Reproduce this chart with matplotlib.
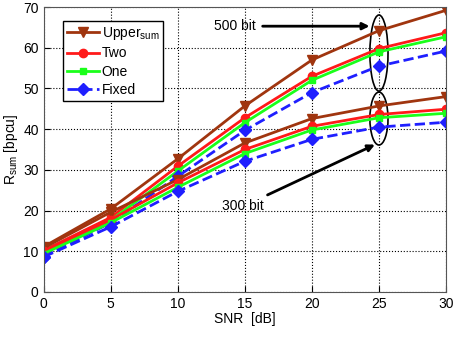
import matplotlib.pyplot as plt
from matplotlib.patches import Ellipse

plt.rcParams['font.family'] = ['Liberation Sans', 'DejaVu Sans']
plt.rcParams['mathtext.fontset'] = 'custom'
plt.rcParams['mathtext.rm'] = 'Liberation Sans'

snr = [0, 5, 10, 15, 20, 25, 30]

# 500 bit curves
upper_500 = [11.1, 20.4, 32.7, 45.7, 57.0, 64.2, 69.2]
two_500 = [10.2, 18.3, 30.9, 42.8, 53.0, 59.8, 63.7]
one_500 = [9.6, 17.6, 29.7, 41.6, 52.0, 59.0, 62.7]
fixed_500 = [8.7, 17.0, 28.4, 39.7, 49.0, 55.5, 59.2]

# 300 bit curves
upper_300 = [10.8, 19.6, 27.6, 36.6, 42.6, 45.7, 48.0]
two_300 = [10.0, 17.7, 26.8, 35.0, 40.7, 43.6, 44.9]
one_300 = [9.4, 17.0, 25.7, 34.0, 39.8, 42.8, 43.9]
fixed_300 = [8.6, 16.0, 24.7, 32.1, 37.5, 40.5, 41.7]

brown = '#a0350f'
red = '#ff1a1a'
green = '#1aff1a'
blue = '#1f1fff'

fig = plt.figure(figsize=(4.74, 3.53), dpi=100)
ax = fig.add_axes([0.092, 0.173, 0.849, 0.807])

ax.plot(snr, upper_500, '-v', color=brown, lw=2, ms=7, label='Upper$_{\\rm sum}$')
ax.plot(snr, two_500, '-o', color=red, lw=2, ms=6, label='Two')
ax.plot(snr, one_500, '-s', color=green, lw=2, ms=5, label='One')
ax.plot(snr, fixed_500, '--D', color=blue, lw=2, ms=6, label='Fixed')

ax.plot(snr, upper_300, '-v', color=brown, lw=2, ms=7)
ax.plot(snr, two_300, '-o', color=red, lw=2, ms=6)
ax.plot(snr, one_300, '-s', color=green, lw=2, ms=5)
ax.plot(snr, fixed_300, '--D', color=blue, lw=2, ms=6)

# ellipses round the 25 dB points
ax.add_patch(Ellipse((25, 58.7), 1.35, 18.7, fill=False, ec='black', lw=1.2))
ax.add_patch(Ellipse((25, 42.6), 1.35, 13.0, fill=False, ec='black', lw=1.2))

ax.annotate('500 bit', xy=(24.3, 65.3), xytext=(12.7, 65.3), fontsize=10,
            va='center', ha='left',
            arrowprops=dict(arrowstyle='-|>', color='black', lw=2, shrinkA=3, shrinkB=0))
ax.annotate('300 bit', xy=(24.7, 36.2), xytext=(13.3, 21), fontsize=10,
            va='center', ha='left',
            arrowprops=dict(arrowstyle='-|>', color='black', lw=2, shrinkA=3, shrinkB=0))

ax.set_xlim(0, 30)
ax.set_ylim(0, 70)
ax.set_xticks(snr)
ax.set_yticks(range(0, 71, 10))
ax.tick_params(direction='in', labelsize=10, length=4)
ax.grid(True, linestyle=':', color='black', lw=0.8)
for s in ax.spines.values():
    s.set_color('#555555')

ax.set_xlabel('SNR  [dB]', fontsize=10, labelpad=1)
ax.set_ylabel('R$_{\\rm sum}$ [bpcu]', fontsize=10, labelpad=2)

leg = ax.legend(loc='upper left', bbox_to_anchor=(0.03, 0.975), fontsize=10,
                fancybox=False, edgecolor='black', framealpha=1,
                handlelength=2.3, handletextpad=0.2, borderpad=0.3, labelspacing=0.3)
leg.get_frame().set_linewidth(1)

plt.savefig('out.png', dpi=100)
